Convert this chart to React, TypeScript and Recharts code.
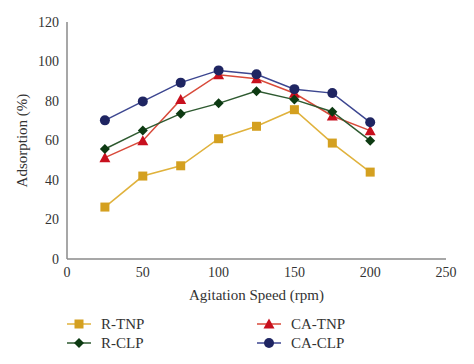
import React from 'react';
import { LineChart, Line, XAxis, YAxis, Legend } from 'recharts';

const speeds = [25, 50, 75, 100, 125, 150, 175, 200];
const rTnp = [26.3, 42, 47.2, 60.9, 67.2, 75.6, 58.7, 44];
const caTnp = [51.3, 59.9, 80.7, 93.3, 91.3, 83.9, 72.4, 65];
const rClp = [55.7, 65.1, 73.6, 78.8, 85, 80.7, 74.6, 59.9];
const caClp = [70.2, 79.8, 89.3, 95.5, 93.5, 86, 84, 69.2];

const xTicks = [0, 50, 100, 150, 200, 250];
const yTicks = [0, 20, 40, 60, 80, 100, 120];

const data = speeds.map((s, i) => ({
  speed: s,
  rTnp: rTnp[i],
  caTnp: caTnp[i],
  rClp: rClp[i],
  caClp: caClp[i],
}));

type Shape = 'square' | 'triangle' | 'diamond' | 'circle';

const series: { key: string; name: string; line: string; fill: string; shape: Shape }[] = [
  { key: 'rTnp', name: 'R-TNP', line: '#E0B23C', fill: '#D4A020', shape: 'square' },
  { key: 'caTnp', name: 'CA-TNP', line: '#D84A3A', fill: '#C8101E', shape: 'triangle' },
  { key: 'rClp', name: 'R-CLP', line: '#2E5A30', fill: '#0D3A12', shape: 'diamond' },
  { key: 'caClp', name: 'CA-CLP', line: '#3C4690', fill: '#1F2562', shape: 'circle' },
];

const FONT = "'Liberation Serif', 'DejaVu Serif', serif";
const textStyle = { fill: '#333', fontSize: 14, fontFamily: FONT };

function Marker({ cx, cy, shape, fill }: { cx: number; cy: number; shape: Shape; fill: string }) {
  if (shape === 'square') return <rect x={cx - 4.5} y={cy - 4.5} width={9} height={9} fill={fill} />;
  if (shape === 'triangle')
    return <polygon points={`${cx},${cy - 5.5} ${cx + 5.5},${cy + 4.5} ${cx - 5.5},${cy + 4.5}`} fill={fill} />;
  if (shape === 'diamond')
    return <polygon points={`${cx},${cy - 5} ${cx + 5},${cy} ${cx},${cy + 5} ${cx - 5},${cy}`} fill={fill} />;
  return <circle cx={cx} cy={cy} r={5} fill={fill} />;
}

function LegendContent() {
  const cols = [
    [series[0], series[2]],
    [series[1], series[3]],
  ];
  const colX = [67, 257];
  return (
    <svg width={474} height={60} style={{ display: 'block' }}>
      {cols.map((col, ci) =>
        col.map((s, ri) => {
          const y = 20 + ri * 19;
          const x = colX[ci];
          return (
            <g key={s.key}>
              <line x1={x} x2={x + 24} y1={y} y2={y} stroke={s.line} strokeWidth={1.5} />
              <Marker cx={x + 12} cy={y} shape={s.shape} fill={s.fill} />
              <text x={x + 34} y={y + 5} style={{ fontSize: 15, fontFamily: FONT, fill: '#333' }}>
                {s.name}
              </text>
            </g>
          );
        })
      )}
    </svg>
  );
}

export default function App() {
  return (
    <div
      style={{
        position: 'absolute',
        left: 0,
        top: 0,
        width: 474,
        height: 364,
        background: '#fff',
        fontFamily: FONT,
      }}
    >
      <LineChart width={474} height={364} data={data} margin={{ top: 22, right: 28, left: 0, bottom: 0 }}>
        <XAxis
          dataKey="speed"
          type="number"
          domain={[0, 250]}
          ticks={xTicks}
          tickLine={false}
          axisLine={{ stroke: '#8a8a8a', strokeWidth: 1.5 }}
          tick={{ ...textStyle, style: textStyle }}
          height={45}
          label={{
            value: 'Agitation Speed (rpm)',
            position: 'insideBottom',
            offset: 4,
            style: { ...textStyle, fontSize: 15 },
          }}
        />
        <YAxis
          type="number"
          domain={[0, 120]}
          ticks={yTicks}
          tickLine={false}
          width={67}
          axisLine={{ stroke: '#8a8a8a', strokeWidth: 1.5 }}
          tick={{ ...textStyle, style: textStyle }}
          label={{
            value: 'Adsorption (%)',
            angle: -90,
            position: 'insideLeft',
            offset: 22,
            style: { ...textStyle, fontSize: 15, textAnchor: 'middle' },
          }}
        />
        <Legend verticalAlign="bottom" height={60} content={() => <LegendContent />} />
        {series.map((s) => (
          <Line
            key={s.key}
            dataKey={s.key}
            name={s.name}
            stroke={s.line}
            strokeWidth={1.5}
            isAnimationActive={false}
            dot={(p: any) => <Marker key={`${s.key}-${p.index}`} cx={p.cx} cy={p.cy} shape={s.shape} fill={s.fill} />}
            activeDot={false}
          />
        ))}
      </LineChart>
    </div>
  );
}
